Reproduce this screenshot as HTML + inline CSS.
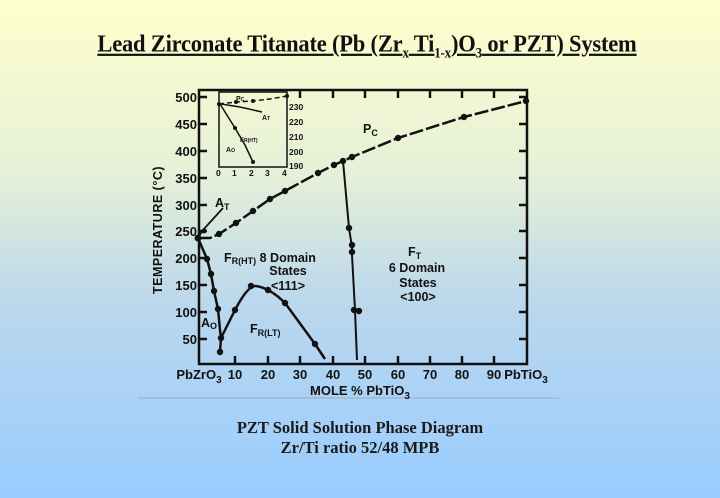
<!DOCTYPE html>
<html><head><meta charset="utf-8"><style>
html,body{margin:0;padding:0}
body{width:720px;height:498px;overflow:hidden;background:linear-gradient(to bottom,#ffffcc 0%,#e6f0d8 35%,#bcd8ec 60%,#99ccff 100%);position:relative;font-family:"Liberation Serif",serif}
.title{position:absolute;left:7px;width:720px;top:31px;text-align:center;font-weight:bold;font-size:22.5px;text-decoration:underline;color:#111;letter-spacing:-0.2px;transform:scaleY(1.1)}
.title sub{font-size:13px}
.cap{position:absolute;left:0;width:720px;text-align:center;font-weight:bold;font-size:16.5px;color:#1a1a1a}
</style></head><body>
<div class="title">Lead Zirconate Titanate (Pb (Zr<sub>x</sub> Ti<sub>1-x</sub>)O<sub>3</sub> or PZT) System</div>
<svg width="720" height="498" style="position:absolute;left:0;top:0" font-family="Liberation Sans, sans-serif" font-weight="bold" fill="#111">
<line x1="138" y1="398" x2="559" y2="398" stroke="#9ab" stroke-width="1"/>
<rect x="199" y="90" width="328" height="274" fill="none" stroke="#111" stroke-width="2.5"/>
<g stroke="#111" stroke-width="2.5">
<line x1="199" y1="97" x2="207" y2="97"/><line x1="199" y1="124" x2="207" y2="124"/><line x1="199" y1="151" x2="207" y2="151"/><line x1="199" y1="178" x2="207" y2="178"/><line x1="199" y1="205" x2="207" y2="205"/><line x1="199" y1="231" x2="207" y2="231"/><line x1="199" y1="258" x2="207" y2="258"/><line x1="199" y1="285" x2="207" y2="285"/><line x1="199" y1="312" x2="207" y2="312"/><line x1="199" y1="339" x2="207" y2="339"/>
<line x1="519" y1="97" x2="527" y2="97"/><line x1="519" y1="124" x2="527" y2="124"/><line x1="519" y1="151" x2="527" y2="151"/><line x1="519" y1="178" x2="527" y2="178"/><line x1="519" y1="205" x2="527" y2="205"/><line x1="519" y1="231" x2="527" y2="231"/><line x1="519" y1="258" x2="527" y2="258"/><line x1="519" y1="285" x2="527" y2="285"/><line x1="519" y1="312" x2="527" y2="312"/><line x1="519" y1="339" x2="527" y2="339"/>
<line x1="235" y1="364" x2="235" y2="356"/><line x1="268" y1="364" x2="268" y2="356"/><line x1="300" y1="364" x2="300" y2="356"/><line x1="333" y1="364" x2="333" y2="356"/><line x1="365" y1="364" x2="365" y2="356"/><line x1="398" y1="364" x2="398" y2="356"/><line x1="430" y1="364" x2="430" y2="356"/><line x1="462" y1="364" x2="462" y2="356"/><line x1="494" y1="364" x2="494" y2="356"/>
<line x1="365" y1="90" x2="365" y2="98"/><line x1="398" y1="90" x2="398" y2="98"/><line x1="430" y1="90" x2="430" y2="98"/><line x1="462" y1="90" x2="462" y2="98"/><line x1="494" y1="90" x2="494" y2="98"/><line x1="300" y1="90" x2="300" y2="98"/><line x1="333" y1="90" x2="333" y2="98"/>
</g>
<g font-size="13" text-anchor="end">
<text x="197" y="102">500</text><text x="197" y="129">450</text><text x="197" y="156">400</text><text x="197" y="183">350</text><text x="197" y="210">300</text><text x="197" y="236">250</text><text x="197" y="263">200</text><text x="197" y="290">150</text><text x="197" y="317">100</text><text x="197" y="344">50</text>
</g>
<g font-size="13" text-anchor="middle">
<text x="199" y="379">PbZrO<tspan font-size="10" dy="4">3</tspan></text>
<text x="235" y="379">10</text><text x="268" y="379">20</text><text x="300" y="379">30</text><text x="333" y="379">40</text><text x="365" y="379">50</text><text x="398" y="379">60</text><text x="430" y="379">70</text><text x="462" y="379">80</text><text x="494" y="379">90</text>
<text x="526" y="379">PbTiO<tspan font-size="10" dy="4">3</tspan></text>
<text x="360" y="395">MOLE % PbTiO<tspan font-size="10" dy="4">3</tspan></text>
</g>
<text transform="translate(162,230) rotate(-90)" font-size="12.5" text-anchor="middle" letter-spacing="0.5">TEMPERATURE  (°C)</text>
<rect x="219" y="92" width="68" height="75" fill="none" stroke="#111" stroke-width="1.5"/>
<g font-size="8.5">
<text x="289" y="110">230</text><text x="289" y="125">220</text><text x="289" y="140">210</text><text x="289" y="155">200</text><text x="289" y="169">190</text>
<text x="216" y="176">0</text><text x="232" y="176">1</text><text x="249" y="176">2</text><text x="265" y="176">3</text><text x="282" y="176">4</text>
<text x="236" y="101" font-size="7">P<tspan font-size="5">C</tspan></text>
<text x="262" y="120" font-size="7">A<tspan font-size="5">T</tspan></text>
<text x="240" y="142" font-size="6.5">F<tspan font-size="5">R(HT)</tspan></text>
<text x="226" y="152" font-size="7">A<tspan font-size="5">O</tspan></text>
</g>
<g fill="none" stroke="#111" stroke-width="1.5">
<polyline points="219,104 236,102 253,101 270,99 287,96" stroke-dasharray="5,3"/>
<polyline points="221,104 240,107 262,112"/>
<polyline points="220,104 235,128 245,145 253,162"/>
</g>
<g><circle cx="219" cy="104" r="2"/><circle cx="236" cy="102" r="2"/><circle cx="253" cy="101" r="2"/><circle cx="287" cy="96" r="2"/><circle cx="235" cy="128" r="2"/><circle cx="253" cy="162" r="2"/></g>
<g fill="none" stroke="#111" stroke-width="2.5" stroke-linejoin="round">
<polyline points="198,238 210,238 219,234 236,223 253,211 270,199 285,191 318,173 334,165 343,161 352,157 398,138 464,117 526,101" stroke-dasharray="14,3"/>
<polyline points="198,238 207,259 211,274 214,291 218,309 220,330 221,338 220,352"/>
<path d="M221,338 L235,310 Q248,285 256,286 Q270,288 285,303 L315,344 L325,359"/>
<polyline points="343,161 349,228 352,247 352,255 355,310 357,360" stroke-width="2"/>
<polyline points="223,208 203,230" stroke-width="1.8"/>
<polyline points="203,230 199,236" stroke-width="1.8"/>
</g>
<g>
<circle cx="198" cy="238" r="3.5"/><circle cx="219" cy="234" r="3.2"/><circle cx="236" cy="223" r="3.2"/><circle cx="253" cy="211" r="3.2"/><circle cx="270" cy="199" r="3.2"/><circle cx="285" cy="191" r="3.2"/><circle cx="318" cy="173" r="3.2"/><circle cx="334" cy="165" r="3.2"/><circle cx="343" cy="161" r="3.2"/><circle cx="352" cy="157" r="3.2"/><circle cx="398" cy="138" r="3.2"/><circle cx="464" cy="117" r="3.2"/><circle cx="526" cy="101" r="3.2"/>
<circle cx="207" cy="259" r="3.2"/><circle cx="211" cy="274" r="3.2"/><circle cx="214" cy="291" r="3.2"/><circle cx="218" cy="309" r="3.2"/><circle cx="221" cy="338" r="3.2"/><circle cx="220" cy="352" r="3.2"/>
<circle cx="235" cy="310" r="3.2"/><circle cx="251" cy="286" r="3.2"/><circle cx="268" cy="290" r="3.2"/><circle cx="285" cy="303" r="3.2"/><circle cx="315" cy="344" r="3.2"/>
<circle cx="349" cy="228" r="3.2"/><circle cx="352" cy="245" r="3.2"/><circle cx="352" cy="252" r="3.2"/><circle cx="354" cy="310" r="3.2"/><circle cx="359" cy="311" r="3.2"/>
<circle cx="204" cy="231" r="2.5"/>
</g>
<g font-size="12.5">
<text x="215" y="207">A<tspan font-size="9" dy="3">T</tspan></text>
<text x="363" y="133">P<tspan font-size="9" dy="3">C</tspan></text>
<text x="224" y="262">F<tspan font-size="9" dy="2">R(HT)</tspan><tspan dy="-2"> 8 Domain</tspan></text>
<text x="288" y="275" text-anchor="middle">States</text>
<text x="288" y="290" text-anchor="middle">&lt;111&gt;</text>
<text x="408" y="256">F<tspan font-size="9" dy="3">T</tspan></text>
<text x="417" y="272" text-anchor="middle">6 Domain</text>
<text x="418" y="287" text-anchor="middle">States</text>
<text x="418" y="301" text-anchor="middle">&lt;100&gt;</text>
<text x="250" y="333">F<tspan font-size="9" dy="3">R(LT)</tspan></text>
<text x="201" y="327">A<tspan font-size="9" dy="2">O</tspan></text>
</g>
</svg>
<div class="cap" style="top:418px">PZT Solid Solution Phase Diagram</div>
<div class="cap" style="top:438px">Zr/Ti ratio 52/48 MPB</div>
</body></html>
